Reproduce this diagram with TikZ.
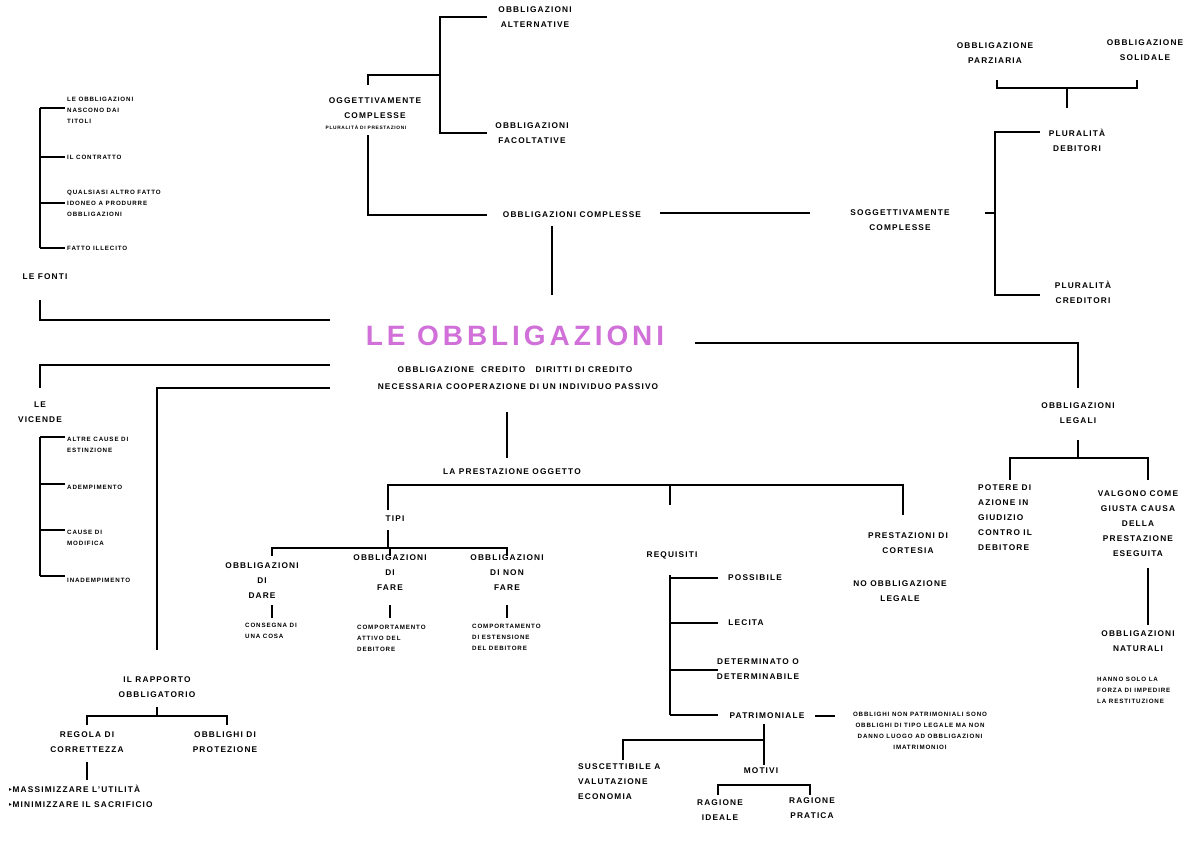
\documentclass[tikz,border=0pt]{standalone}
\usepackage{fontspec}
\setmainfont{Liberation Sans}[LetterSpace=14]
\newfontfamily\djv{DejaVu Sans}
\begin{document}
\begin{tikzpicture}[x=1pt,y=-1pt,
  ln/.style={line width=2pt,black},
  sm/.style={font=\fontsize{6.2}{11}\selectfont\bfseries,align=left,inner sep=0pt},
  md/.style={font=\fontsize{8.3}{15}\selectfont\bfseries,align=center,inner sep=0pt},
  lt/.style={font=\fontsize{8.3}{15}\selectfont\bfseries,align=left,inner sep=0pt}]
\useasboundingbox (0,0) rectangle (1200,849);
\definecolor{pk}{HTML}{D070D8}
% title
\node[font=\fontsize{28}{32}\selectfont\bfseries,text=pk] (title) at (515,336) {LE OBBLIGAZIONI};
\node[md] (sub1) at (515,370) {OBBLIGAZIONE\ \ CREDITO\ \ \ DIRITTI DI CREDITO};
\node[md] (sub2) at (518,387) {NECESSARIA COOPERAZIONE DI UN INDIVIDUO PASSIVO};
% fonti
\draw[ln] (40,108) -- (40,248);
\foreach \y in {108,157,203,248} \draw[ln] (40,\y) -- (65,\y);
\node[sm,anchor=west] (f1) at (67,110) {LE OBBLIGAZIONI\\NASCONO DAI\\TITOLI};
\node[sm,anchor=west] (f2) at (67,157) {IL CONTRATTO};
\node[sm,anchor=west] (f3) at (67,203) {QUALSIASI ALTRO FATTO\\IDONEO A PRODURRE\\OBBLIGAZIONI};
\node[sm,anchor=west] (f4) at (67,248) {FATTO ILLECITO};
\node[md] (fonti) at (45,277) {LE FONTI};
\draw[ln] (40,300) -- (40,320) -- (330,320);
% vicende
\draw[ln] (40,388) -- (40,365) -- (330,365);
\node[md] (vic) at (40,412) {LE\\VICENDE};
\draw[ln] (40,437) -- (40,576);
\foreach \y in {437,484,530,576} \draw[ln] (40,\y) -- (65,\y);
\node[sm,anchor=west] (v1) at (67,445) {ALTRE CAUSE DI\\ESTINZIONE};
\node[sm,anchor=west] (v2) at (67,487) {ADEMPIMENTO};
\node[sm,anchor=west] (v3) at (67,538) {CAUSE DI\\MODIFICA};
\node[sm,anchor=west] (v4) at (67,580) {INADEMPIMENTO};
% rapporto
\draw[ln] (330,388) -- (157,388) -- (157,650);
\node[md] (rap) at (157,687) {IL RAPPORTO\\OBBLIGATORIO};
\draw[ln] (157,707) -- (157,716);
\draw[ln] (87,725) -- (87,716) -- (227,716) -- (227,725);
\node[md] (reg) at (87,742) {REGOLA DI\\CORRETTEZZA};
\node[md] (prot) at (225,742) {OBBLIGHI DI\\PROTEZIONE};
\draw[ln] (87,762) -- (87,780);
\node[lt,anchor=west] (b1) at (8,789) {{\djv\fontsize{7}{8}\selectfont ‣}MASSIMIZZARE L'UTILITÀ};
\node[lt,anchor=west] (b2) at (8,805) {{\djv\fontsize{7}{8}\selectfont ‣}MINIMIZZARE IL SACRIFICIO};
% complesse
\draw[ln] (552,295) -- (552,226);
\node[md] (comp) at (572,215) {OBBLIGAZIONI COMPLESSE};
\draw[ln] (487,215) -- (368,215) -- (368,135);
\node[md] (ogg) at (375,108) {OGGETTIVAMENTE\\COMPLESSE};
\node[font=\fontsize{4.8}{6}\selectfont\bfseries,inner sep=0pt] (plp) at (366,127) {PLURALITÀ DI PRESTAZIONI};
\draw[ln] (368,85) -- (368,75) -- (440,75);
\draw[ln] (487,17) -- (440,17) -- (440,133) -- (487,133);
\node[md] (alt) at (535,17) {OBBLIGAZIONI\\ALTERNATIVE};
\node[md] (fac) at (532,133) {OBBLIGAZIONI\\FACOLTATIVE};
\draw[ln] (660,213) -- (810,213);
\node[md] (sogg) at (900,220) {SOGGETTIVAMENTE\\COMPLESSE};
\draw[ln] (985,213) -- (995,213);
\draw[ln] (1040,132) -- (995,132) -- (995,295) -- (1040,295);
\node[md] (pd) at (1077,140) {PLURALITÀ\\DEBITORI};
\node[md] (pc) at (1083,292) {PLURALITÀ\\CREDITORI};
\draw[ln] (1067,108) -- (1067,88);
\draw[ln] (997,80) -- (997,88) -- (1137,88) -- (1137,80);
\node[md] (parz) at (995,53) {OBBLIGAZIONE\\PARZIARIA};
\node[md] (sol) at (1145,50) {OBBLIGAZIONE\\SOLIDALE};
% legali
\draw[ln] (695,343) -- (1078,343) -- (1078,388);
\node[md] (leg) at (1078,413) {OBBLIGAZIONI\\LEGALI};
\draw[ln] (1078,440) -- (1078,458);
\draw[ln] (1010,480) -- (1010,458) -- (1148,458) -- (1148,480);
\node[lt,anchor=north west] (pot) at (978,484) {POTERE DI\\AZIONE IN\\GIUDIZIO\\CONTRO IL\\DEBITORE};
\node[md] (val) at (1138,524) {VALGONO COME\\GIUSTA CAUSA\\DELLA\\PRESTAZIONE\\ESEGUITA};
\draw[ln] (1148,568) -- (1148,625);
\node[md] (nat) at (1138,641) {OBBLIGAZIONI\\NATURALI};
\node[sm,anchor=west] (forza) at (1097,690) {HANNO SOLO LA\\FORZA DI IMPEDIRE\\LA RESTITUZIONE};
% prestazione
\draw[ln] (507,412) -- (507,458);
\node[md] (pres) at (512,472) {LA PRESTAZIONE OGGETTO};
\draw[ln] (388,510) -- (388,485) -- (903,485) -- (903,515);
\draw[ln] (670,485) -- (670,505);
\node[md] (tipi) at (395,519) {TIPI};
\draw[ln] (388,530) -- (388,548);
\draw[ln] (272,556) -- (272,548) -- (507,548) -- (507,556);
\draw[ln] (390,548) -- (390,556);
\node[md] (dare) at (262,581) {OBBLIGAZIONI\\DI\\DARE};
\node[md] (fare) at (390,573) {OBBLIGAZIONI\\DI\\FARE};
\node[md] (nfare) at (507,573) {OBBLIGAZIONI\\DI NON\\FARE};
\foreach \x in {272,390,507} \draw[ln] (\x,605) -- (\x,618);
\node[sm,anchor=west] (d1) at (245,631) {CONSEGNA DI\\UNA COSA};
\node[sm,anchor=west] (d2) at (357,638) {COMPORTAMENTO\\ATTIVO DEL\\DEBITORE};
\node[sm,anchor=west] (d3) at (472,637) {COMPORTAMENTO\\DI ESTENSIONE\\DEL DEBITORE};
\node[md] (req) at (672,555) {REQUISITI};
\draw[ln] (670,575) -- (670,715);
\foreach \y in {578,623,670,715} \draw[ln] (670,\y) -- (718,\y);
\node[md] (poss) at (755,578) {POSSIBILE};
\node[md] (lec) at (746,623) {LECITA};
\node[md] (det) at (758,669) {DETERMINATO O\\DETERMINABILE};
\node[md] (pat) at (767,716) {PATRIMONIALE};
\draw[ln] (815,716) -- (835,716);
\node[sm,align=center] (nota) at (920,731) {OBBLIGHI NON PATRIMONIALI SONO\\OBBLIGHI DI TIPO LEGALE MA NON\\DANNO LUOGO AD OBBLIGAZIONI\\IMATRIMONIOI};
\draw[ln] (764,724) -- (764,765);
\draw[ln] (623,760) -- (623,740) -- (764,740);
\node[lt,anchor=north west] (susc) at (578,763) {SUSCETTIBILE A\\VALUTAZIONE\\ECONOMIA};
\node[md] (mot) at (761,771) {MOTIVI};
\draw[ln] (718,795) -- (718,785) -- (810,785) -- (810,795);
\node[md] (id) at (720,810) {RAGIONE\\IDEALE};
\node[md] (pr) at (812,808) {RAGIONE\\PRATICA};
\node[md] (cort) at (908,543) {PRESTAZIONI DI\\CORTESIA};
\node[md] (nol) at (900,591) {NO OBBLIGAZIONE\\LEGALE};
\end{tikzpicture}
\end{document}
